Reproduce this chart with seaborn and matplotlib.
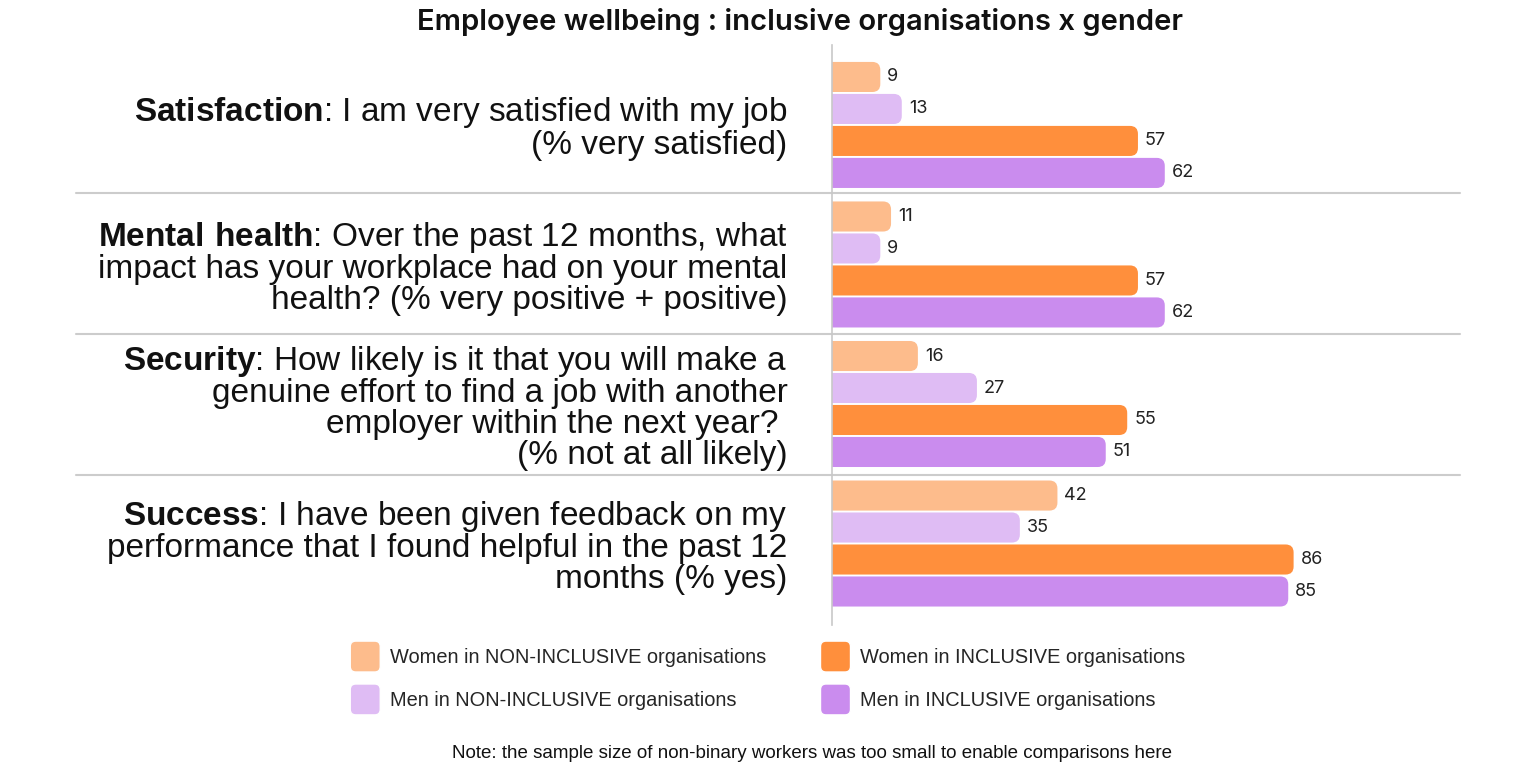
import numpy as np
import pandas as pd
import matplotlib
matplotlib.use("Agg")
import matplotlib.pyplot as plt
from matplotlib.patches import FancyBboxPatch
from matplotlib.legend_handler import HandlerPatch
import seaborn as sns

sns.set_theme(style="white")
plt.rcParams['font.family'] = ['Liberation Sans', 'DejaVu Sans']
plt.rcParams['mathtext.fontset'] = 'custom'
plt.rcParams['mathtext.rm'] = 'Liberation Sans'
plt.rcParams['mathtext.bf'] = 'Liberation Sans:bold'

# data
questions = ["Satisfaction", "Mental health", "Security", "Success"]
question_labels = [
    r"$\mathbf{Satisfaction}$: I am very satisfied with my job" "\n(% very satisfied)",
    r"$\mathbf{Mental\ health}$: Over the past 12 months, what" "\nimpact has your workplace had on your mental"
    "\nhealth? (% very positive + positive)",
    r"$\mathbf{Security}$: How likely is it that you will make a" "\ngenuine effort to find a job with another"
    "\nemployer within the next year? \n(% not at all likely)",
    r"$\mathbf{Success}$: I have been given feedback on my" "\nperformance that I found helpful in the past 12"
    "\nmonths (% yes)",
]
groups = ["Women in NON-INCLUSIVE organisations", "Men in NON-INCLUSIVE organisations",
          "Women in INCLUSIVE organisations", "Men in INCLUSIVE organisations"]
women_non = [9, 11, 16, 42]
men_non = [13, 9, 27, 35]
women_inc = [57, 57, 55, 86]
men_inc = [62, 62, 51, 85]
colors = ["#FDBC8C", "#DFBCF4", "#FF8F3C", "#CA8CEE"]

rows = []
for g, vals in zip(groups, [women_non, men_non, women_inc, men_inc]):
    for q, v in zip(questions, vals):
        rows.append({"question": q, "group": g, "value": v})
df = pd.DataFrame(rows)

fig = plt.figure(figsize=(15.36, 7.68), dpi=100)
ax = fig.add_axes([832/1536, 1-625/768, 628/1536, 580/768])

sns.barplot(data=df, y="question", x="value", hue="group", order=questions,
            hue_order=groups, palette=colors, orient="h", width=0.917, gap=0.06,
            saturation=1, ax=ax)
handles, labels = ax.get_legend_handles_labels()
ax.get_legend().remove()

xmax = 117
ax.set_xlim(0, xmax)
ax.set_ylim(3.584, -0.573)

# value labels
for cont in ax.containers:
    ax.bar_label(cont, padding=5, fontsize=13, family="Inter", color="#222222")

# replace bars by rounded ones (left end sits behind the axis and is clipped)
px_x = 628 / xmax
px_y = 580 / (3.584 + 0.573)
r_px = 8
r = r_px / px_x
aspect = (r_px / px_y) / r
for cont in ax.containers:
    for bar in cont:
        x0, y0 = bar.get_x(), bar.get_y()
        w, h = bar.get_width(), bar.get_height()
        rb = FancyBboxPatch((x0 - 2 * r, y0), w + 2 * r, h,
                            boxstyle=f"round,pad=0,rounding_size={r}",
                            mutation_aspect=aspect, facecolor=bar.get_facecolor(),
                            edgecolor="none", linewidth=0)
        ax.add_patch(rb)
        bar.set_visible(False)

# axis styling
for s in ["top", "right", "bottom"]:
    ax.spines[s].set_visible(False)
ax.spines["left"].set_color("#c8c8c8")
ax.spines["left"].set_linewidth(1.2)
ax.spines["left"].set_zorder(5)
ax.set_xticks([])
ax.set_xlabel("")
ax.set_ylabel("")
ax.set_yticks(range(len(questions)))
ax.set_yticklabels(question_labels, fontsize=24, ha="right", multialignment="right",
                   linespacing=0.98, color="#111111")
ax.tick_params(axis="y", length=0, pad=32)

# separators between questions
for ysep in [0.49, 1.5, 2.51]:
    ax.axhline(ysep, xmin=(76-832)/628, xmax=1, color="#cccccc", linewidth=1.5, clip_on=False)

fig.text(800/1536, 1-22/768, "Employee wellbeing : inclusive organisations x gender",
         ha="center", va="center", fontsize=21, family="Inter", fontweight="semibold",
         color="#111111")


def rounded_patch(legend, orig_handle, xdescent, ydescent, width, height, fontsize):
    return FancyBboxPatch((-xdescent, -ydescent), width, height,
                          boxstyle="round,pad=0,rounding_size=4")


fig.legend(handles, labels, ncol=2, loc="center", bbox_to_anchor=(768/1536, 1-678/768),
           frameon=False, fontsize=14.4, handlelength=1.5, handleheight=2.0,
           handletextpad=0.5, columnspacing=2.7, labelspacing=0.6,
           handler_map={h: HandlerPatch(patch_func=rounded_patch) for h in handles})

fig.text(812/1536, 1-753/768,
         "Note: the sample size of non-binary workers was too small to enable comparisons here",
         ha="center", va="center", fontsize=13.5, color="#111111")

fig.savefig("out.png", dpi=100, facecolor="white")
